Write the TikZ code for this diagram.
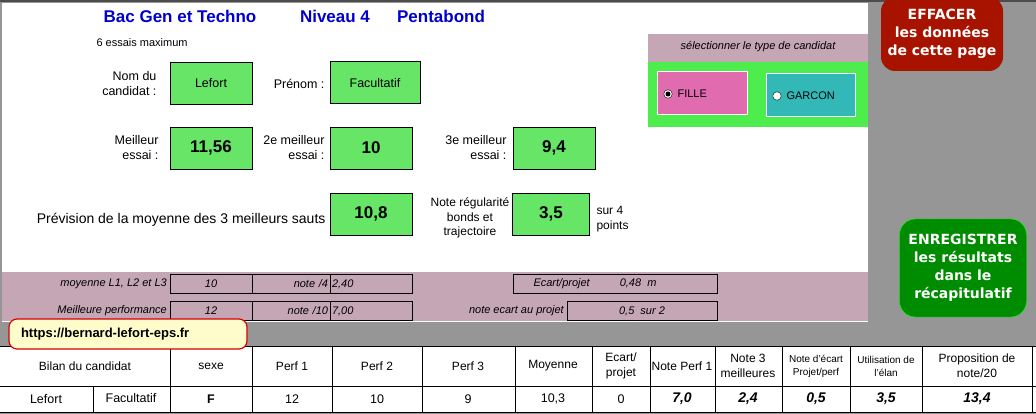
\documentclass[tikz,border=0pt]{standalone}
\usepackage{fontspec}
\setmainfont{Liberation Sans}
\newfontfamily\btn{DejaVu Sans}
\begin{document}
\begin{tikzpicture}[x=1pt,y=-1pt,
  gbox/.style={draw=black,fill=green!55!white!90!black,minimum width=82pt,minimum height=42pt,inner sep=0pt,font=\fontsize{17}{18}\selectfont\bfseries},
  lab/.style={font=\fontsize{12.5}{15}\selectfont,align=right,anchor=east},
  cell/.style={draw=black,minimum height=19pt,inner sep=2pt,font=\fontsize{11}{12}\selectfont\itshape},
  th/.style={font=\fontsize{12}{15}\selectfont,align=center},
  td/.style={font=\fontsize{12.5}{15}\selectfont}]
\definecolor{pinkband}{HTML}{C4A6B4}
\definecolor{grayp}{HTML}{969696}
\useasboundingbox (0,0) rectangle (1036,414);
\fill[grayp] (0,0) rectangle (1036,414);
\fill[white] (2,3) rectangle (868,322);
\draw[black!70,line width=1.5pt] (0,1) -- (1036,1);
% title
\node[font=\fontsize{17}{19}\selectfont\bfseries,text=blue!80!black] (t1) at (180,16) {Bac Gen et Techno};
\node[font=\fontsize{17}{19}\selectfont\bfseries,text=blue!80!black] (t2) at (335,16) {Niveau 4};
\node[font=\fontsize{17}{19}\selectfont\bfseries,text=blue!80!black] (t3) at (441,16) {Pentabond};
\node[font=\fontsize{11}{13}\selectfont,anchor=west] (ess) at (93,43) {6 essais maximum};
% inputs
\node[gbox,font=\fontsize{12.5}{14}\selectfont] (nom) at (211,83) {Lefort};
\node[lab] (lnom) at (160,84) {Nom du\\candidat :};
\node[gbox,font=\fontsize{12.5}{14}\selectfont,minimum width=90pt,line width=1pt] (pre) at (375,83) {Facultatif};
\node[lab] (lpre) at (328,84) {Prénom :};
\node[gbox] (m1) at (211,148) {11,56};
\node[lab] (lm1) at (162,148) {Meilleur\\essai :};
\node[gbox] (m2) at (371,148) {10};
\node[lab] (lm2) at (328,148) {2e meilleur\\essai :};
\node[gbox] (m3) at (554,148) {9,4};
\node[lab] (lm3) at (510,148) {3e meilleur\\essai :};
\node[gbox] (prev) at (371,214) {10,8};
\node[lab,font=\fontsize{14}{16}\selectfont] (lprev) at (329,220) {Prévision de la moyenne des 3 meilleurs sauts};
\node[gbox,minimum width=77pt] (reg) at (551,214) {3,5};
\node[lab,align=center,anchor=center,font=\fontsize{12}{14.5}\selectfont] (lreg) at (470,218) {Note régularité\\bonds et\\trajectoire};
\node[font=\fontsize{12}{14.5}\selectfont,align=left,anchor=west] (sur4) at (593,219) {sur 4\\points};
% band
\fill[pinkband] (2,272) rectangle (868,321);
\node[cell,draw=none,anchor=east] (r1l) at (169,284) {moyenne L1, L2 et L3};
\node[cell,minimum width=82pt] (r1a) at (211,284) {10};
\node[cell,minimum width=78pt,align=right,text width=74pt] (r1b) at (291,284) {note /4};
\node[cell,minimum width=82pt,align=left,text width=78pt] (r1c) at (371,284) {2,40};
\node[cell,minimum width=204pt] (r1d) at (615,284) {\hspace{-40pt}Ecart/projet\hspace{30pt}0,48\ \ m};
\node[cell,draw=none,anchor=east] (r2l) at (169,311) {Meilleure performance};
\node[cell,minimum width=82pt] (r2a) at (211,311) {12};
\node[cell,minimum width=78pt,align=right,text width=74pt] (r2b) at (291,311) {note /10};
\node[cell,minimum width=82pt,align=left,text width=78pt] (r2c) at (371,311) {7,00};
\node[cell,draw=none,anchor=east] (r2e) at (566,311) {note ecart au projet};
\node[cell,minimum width=150pt] (r2d) at (642,311) {0,5\ \ sur 2};
% selection panel
\fill[pinkband] (648,34) rectangle (868,62);
\node[font=\fontsize{11}{12}\selectfont\itshape] (sel) at (758,47) {sélectionner le type de candidat};
\fill[green!90!black!70!white] (648,62) rectangle (868,127);
\node[draw=white,fill=magenta!60!white!90!black,minimum width=90pt,minimum height=43pt] (fille) at (702,93) {};
\node[draw=white,fill=teal!70!cyan!80!white,minimum width=89pt,minimum height=43pt] (garc) at (811,95) {};
\node[circle,draw=black,fill=white,inner sep=3pt] (rb1) at (668,94) {};
\fill (rb1) circle (2.5pt);
\node[font=\fontsize{11}{12}\selectfont,anchor=west] (fl) at (674,94) {FILLE};
\node[circle,draw=black,fill=white,inner sep=3pt] (rb2) at (777,96) {};
\node[font=\fontsize{11}{12}\selectfont,anchor=west] (gl) at (783,96) {GARCON};
% buttons
\node[fill=red!60!black!85!orange,rounded corners=14pt,minimum width=122pt,minimum height=74pt,text=white,align=center,font=\btn\fontsize{14}{18}\selectfont\bfseries] (eff) at (942,34) {EFFACER\\les données\\de cette page};
\node[fill=green!55!black,draw=green,rounded corners=16pt,minimum width=127pt,minimum height=98pt,text=white,align=center,font=\btn\fontsize{14}{18}\selectfont\bfseries] (enr) at (963,268) {ENREGISTRER\\les résultats\\dans le\\récapitulatif};
% table
\fill[white] (0,346) rectangle (1036,413);
\draw (0,346) -- (1036,346) (0,386) -- (1036,386) (0,412.5) -- (1036,412.5);
\foreach \x in {170,252,332,422,515,592,650,715,782,850,922,1032} \draw (\x,346) -- (\x,412.5);
\draw (93,386) -- (93,412.5);
\node[th] (h0) at (85,366) {Bilan du candidat};
\node[th] (h1) at (211,366) {sexe};
\node[th] (h2) at (292,366) {Perf 1};
\node[th] (h3) at (377,366) {Perf 2};
\node[th] (h4) at (468,366) {Perf 3};
\node[th] (h5) at (553,366) {Moyenne};
\node[th] (h6) at (621,366) {Ecart/\\projet};
\node[th] (h7) at (682,366) {Note Perf 1};
\node[th] (h8) at (748,366) {Note 3\\meilleures};
\node[th,font=\fontsize{10}{13}\selectfont] (h9) at (816,366) {Note d'écart\\Projet/perf};
\node[th,font=\fontsize{10}{13}\selectfont] (h10) at (886,366) {Utilisation de\\l'élan};
\node[th] (h11) at (977,366) {Proposition de\\note/20};
\node[td] (d0) at (46,399) {Lefort};
\node[td] (d1) at (131,398) {Facultatif};
\node[td,font=\fontsize{12.5}{15}\selectfont\bfseries] (d2) at (211,399) {F};
\node[td] (d3) at (292,399) {12};
\node[td] (d4) at (377,399) {10};
\node[td] (d5) at (468,399) {9};
\node[td] (d6) at (553,399) {10,3};
\node[td] (d7) at (621,399) {0};
\node[td,font=\fontsize{14}{15}\selectfont\bfseries\itshape] (d8) at (682,399) {7,0};
\node[td,font=\fontsize{14}{15}\selectfont\bfseries\itshape] (d9) at (748,399) {2,4};
\node[td,font=\fontsize{14}{15}\selectfont\bfseries\itshape] (d10) at (816,399) {0,5};
\node[td,font=\fontsize{14}{15}\selectfont\bfseries\itshape] (d11) at (886,399) {3,5};
\node[td,font=\fontsize{14}{15}\selectfont\bfseries\itshape] (d12) at (977,399) {13,4};
% tooltip
\node[fill=yellow!20!white,draw=red!85!black,line width=1.2pt,rounded corners=8pt,minimum width=238pt,minimum height=30pt,inner xsep=12pt,text width=214pt,font=\fontsize{13}{15}\selectfont\bfseries] (tip) at (128,334) {https://bernard-lefort-eps.fr};
\end{tikzpicture}
\end{document}
